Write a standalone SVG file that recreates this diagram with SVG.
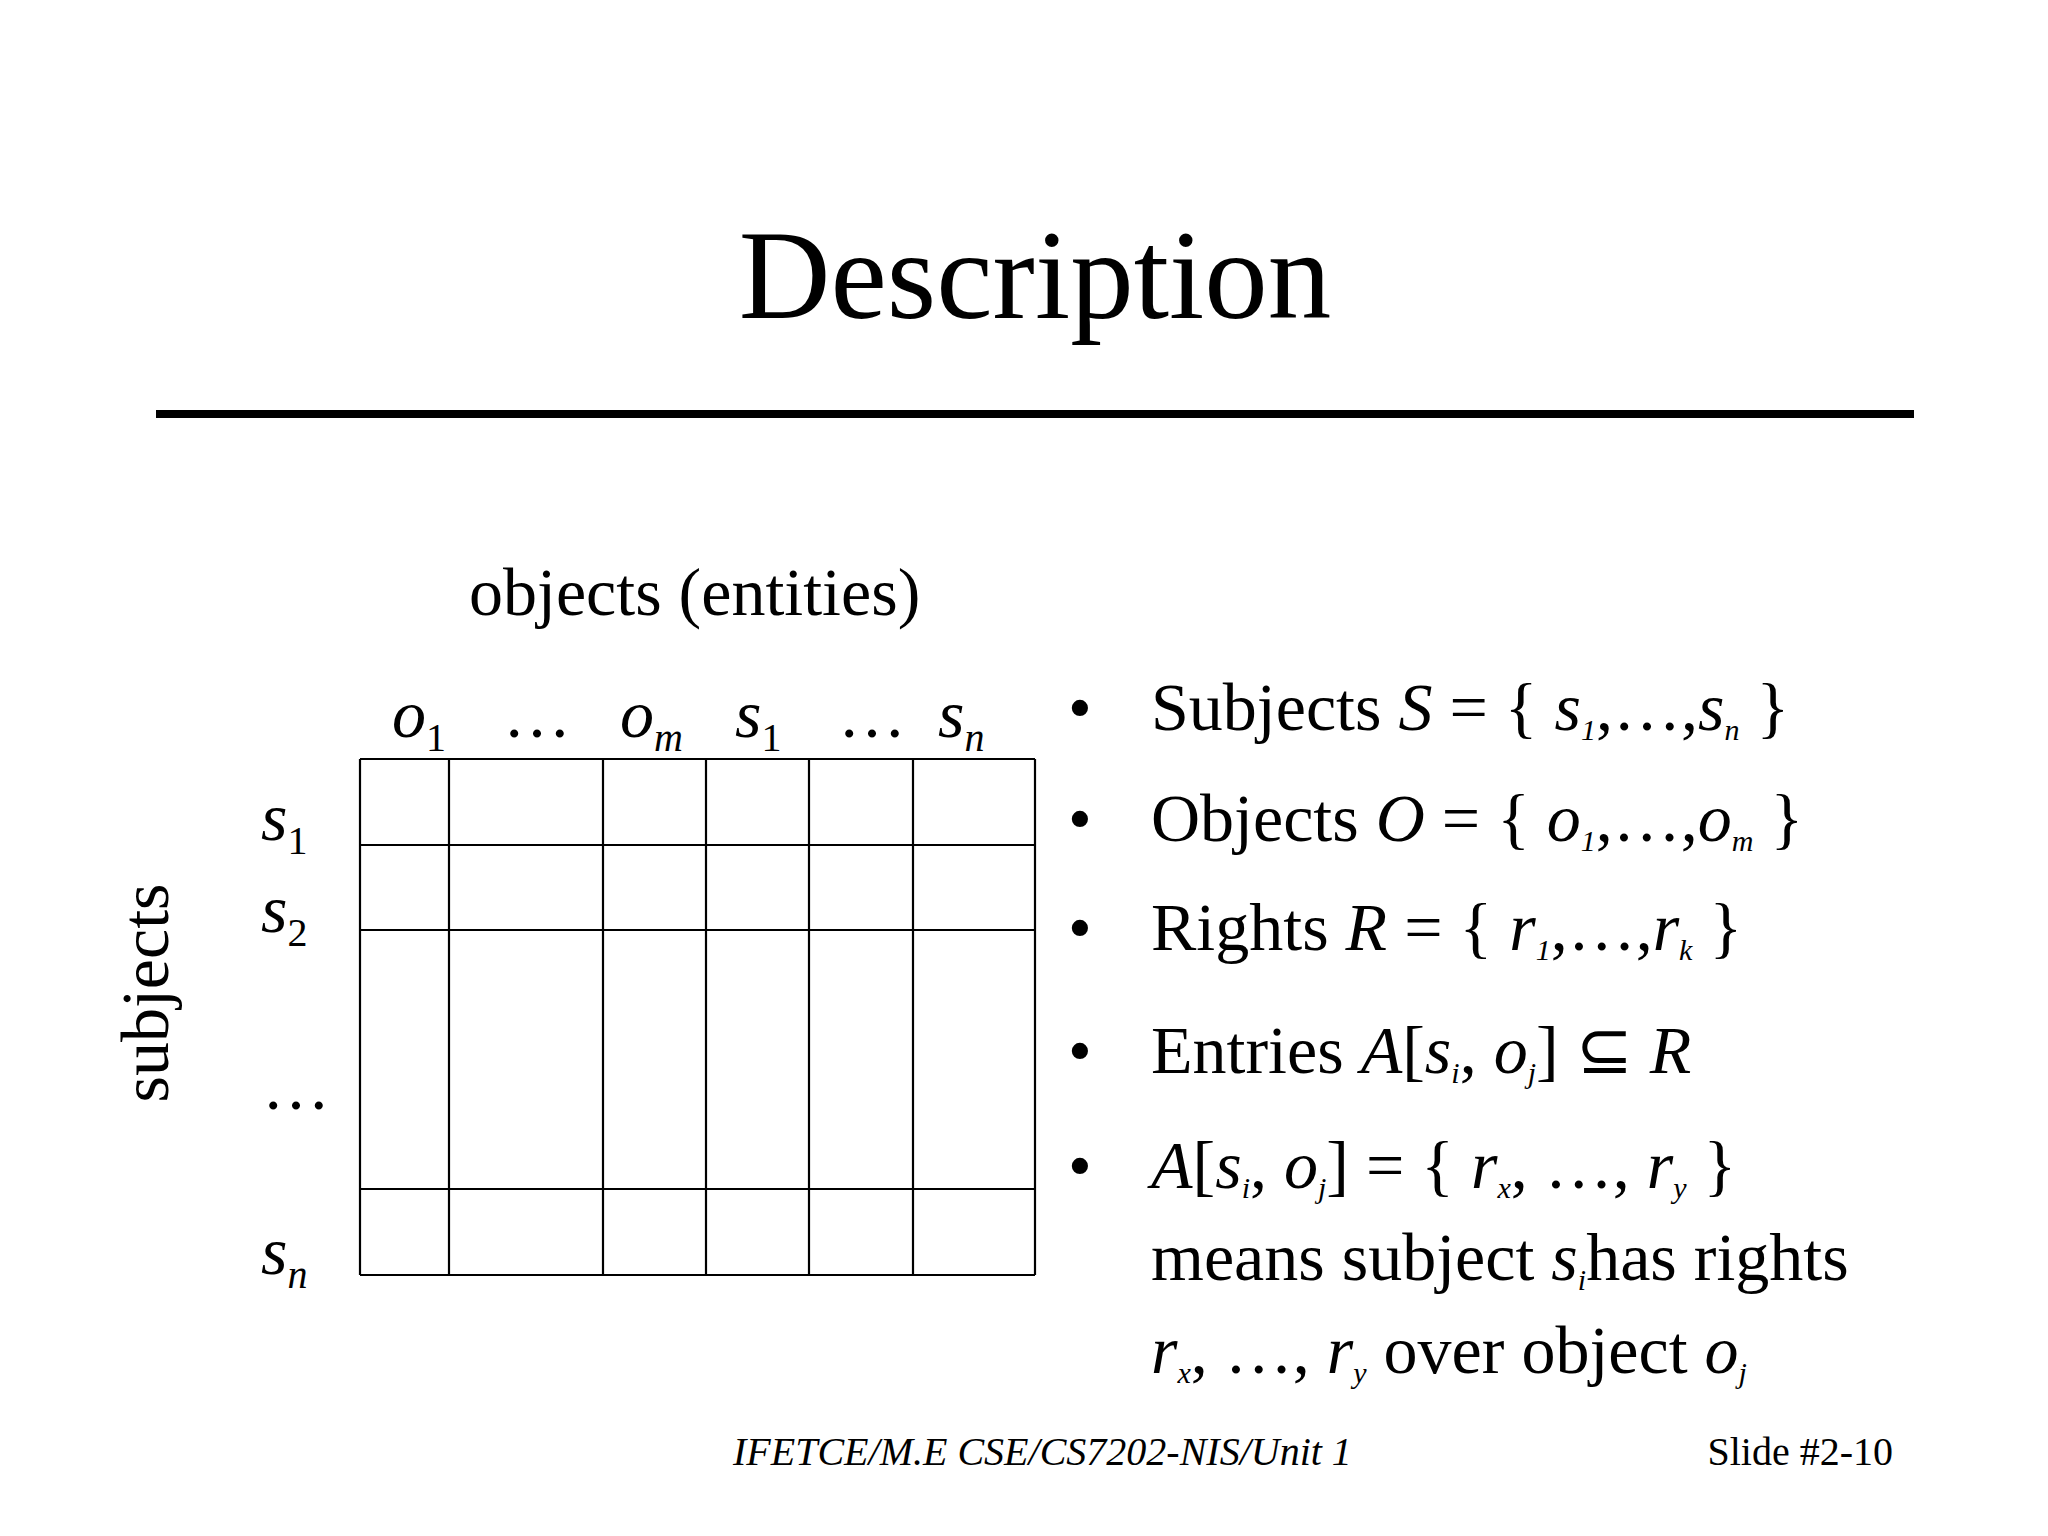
<svg xmlns="http://www.w3.org/2000/svg" width="2048" height="1536" viewBox="0 0 2048 1536">
<style>
text{font-family:"Liberation Serif","Times New Roman",serif;fill:#000}
.i{font-style:italic}
.m{font-size:68px}
.sb{font-size:40px}
.ss{font-size:30px;font-style:italic}
.g line{stroke:#000;stroke-width:2.2}
</style>
<rect width="2048" height="1536" fill="#fff"/>
<text x="1035" y="318" font-size="127" text-anchor="middle">Description</text>
<line x1="156" y1="414" x2="1914" y2="414" stroke="#000" stroke-width="8"/>
<text x="469" y="615" class="m">objects (entities)</text>
<g id="col-labels" class="m">
<text x="392" y="737" class="i">o<tspan class="sb" font-style="normal" dy="14">1</tspan></text>
<text x="503" y="737">…</text>
<text x="620" y="737" class="i">o<tspan class="sb" dy="14">m</tspan></text>
<text x="735" y="737" class="i">s<tspan class="sb" font-style="normal" dy="14">1</tspan></text>
<text x="838" y="737">…</text>
<text x="938" y="737" class="i">s<tspan class="sb" dy="14">n</tspan></text>
</g>
<g id="row-labels" class="m">
<text x="261" y="840" class="i">s<tspan class="sb" font-style="normal" dy="14">1</tspan></text>
<text x="261" y="932" class="i">s<tspan class="sb" font-style="normal" dy="14">2</tspan></text>
<text x="262" y="1109">…</text>
<text x="261" y="1274" class="i">s<tspan class="sb" dy="14">n</tspan></text>
</g>
<text transform="translate(168,993) rotate(-90)" class="m" text-anchor="middle">subjects</text>
<g id="matrix" class="g">
<line x1="360" y1="759" x2="1035" y2="759"/>
<line x1="360" y1="845" x2="1035" y2="845"/>
<line x1="360" y1="930" x2="1035" y2="930"/>
<line x1="360" y1="1189" x2="1035" y2="1189"/>
<line x1="360" y1="1275" x2="1035" y2="1275"/>
<line x1="360" y1="759" x2="360" y2="1275"/>
<line x1="449" y1="759" x2="449" y2="1275"/>
<line x1="603" y1="759" x2="603" y2="1275"/>
<line x1="706" y1="759" x2="706" y2="1275"/>
<line x1="809" y1="759" x2="809" y2="1275"/>
<line x1="913" y1="759" x2="913" y2="1275"/>
<line x1="1035" y1="759" x2="1035" y2="1275"/>
</g>
<g id="bullets" class="m">
<text x="1068" y="730">•</text>
<text x="1068" y="841">•</text>
<text x="1068" y="950">•</text>
<text x="1068" y="1073">•</text>
<text x="1068" y="1188">•</text>
<text x="1151" y="730">Subjects <tspan class="i">S</tspan> = { <tspan class="i">s</tspan><tspan class="ss" font-style="normal" dy="10">1</tspan><tspan dy="-10">,…,</tspan><tspan class="i">s</tspan><tspan class="ss" dy="10">n</tspan><tspan dy="-10"> }</tspan></text>
<text x="1151" y="841">Objects <tspan class="i">O</tspan> = { <tspan class="i">o</tspan><tspan class="ss" font-style="normal" dy="10">1</tspan><tspan dy="-10">,…,</tspan><tspan class="i">o</tspan><tspan class="ss" dy="10">m</tspan><tspan dy="-10"> }</tspan></text>
<text x="1151" y="950">Rights <tspan class="i">R</tspan> = { <tspan class="i">r</tspan><tspan class="ss" font-style="normal" dy="10">1</tspan><tspan dy="-10">,…,</tspan><tspan class="i">r</tspan><tspan class="ss" dy="10">k</tspan><tspan dy="-10"> }</tspan></text>
<text x="1151" y="1073">Entries <tspan class="i">A</tspan>[<tspan class="i">s</tspan><tspan class="ss" dy="10">i</tspan><tspan dy="-10">, </tspan><tspan class="i">o</tspan><tspan class="ss" dy="10">j</tspan><tspan dy="-10">] ⊆ </tspan><tspan class="i">R</tspan></text>
<text x="1151" y="1188"><tspan class="i">A</tspan>[<tspan class="i">s</tspan><tspan class="ss" dy="10">i</tspan><tspan dy="-10">, </tspan><tspan class="i">o</tspan><tspan class="ss" dy="10">j</tspan><tspan dy="-10">] = { </tspan><tspan class="i">r</tspan><tspan class="ss" dy="10">x</tspan><tspan dy="-10">, …, </tspan><tspan class="i">r</tspan><tspan class="ss" dy="10">y</tspan><tspan dy="-10"> }</tspan></text>
<text x="1151" y="1280">means subject <tspan class="i">s</tspan><tspan class="ss" dy="10">i</tspan><tspan dy="-10">has rights</tspan></text>
<text x="1151" y="1373"><tspan class="i">r</tspan><tspan class="ss" dy="10">x</tspan><tspan dy="-10">, …, </tspan><tspan class="i">r</tspan><tspan class="ss" dy="10">y</tspan><tspan dy="-10"> over object </tspan><tspan class="i">o</tspan><tspan class="ss" dy="10">j</tspan></text>
</g>
<text x="733" y="1465" font-size="40" class="i">IFETCE/M.E CSE/CS7202-NIS/Unit 1</text>
<text x="1893" y="1465" font-size="40" text-anchor="end">Slide #2-10</text>
</svg>
